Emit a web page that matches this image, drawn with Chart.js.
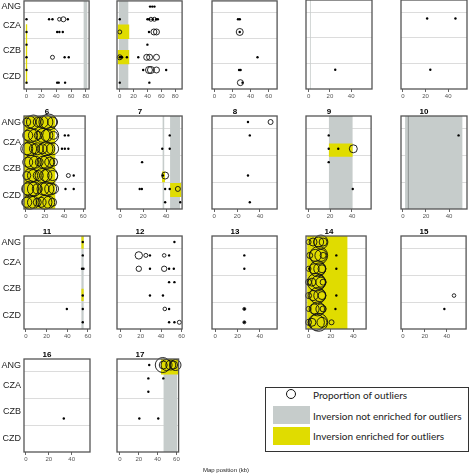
<!DOCTYPE html>
<html>
<head>
<meta charset="utf-8">
<script src="https://cdn.jsdelivr.net/npm/chart.js@4.4.1/dist/chart.umd.min.js"></script>
<style>
html, body { margin: 0; padding: 0; background: #fff; width: 474px; height: 474px; overflow: hidden; position: relative; font-family: "Liberation Sans", Arial, sans-serif; }
canvas { position: absolute; }
#legend { position: absolute; left: 265px; top: 387px; width: 204px; height: 65px; border: 1.5px solid #333; box-sizing: border-box; font-family: Lato, "Open Sans", sans-serif; font-size: 10px; color: #222; }
#legend .item { position: absolute; left: 47px; white-space: nowrap; line-height: 12px; }
#legend .sw { position: absolute; left: 7px; width: 37px; height: 18px; }
#legend .circ { position: absolute; left: 20px; top: 1px; width: 10px; height: 10px; border: 1.3px solid #111; border-radius: 50%; box-sizing: border-box; }
#xlabel { position: absolute; left: 203px; top: 467px; font-size: 6px; color: #222; white-space: nowrap; }
</style>
</head>
<body>
<div id="panels"></div>
<div id="legend">
  <div class="circ"></div>
  <div class="item" style="top:1px">Proportion of outliers</div>
  <div class="sw" style="top:18px;background:#c6cccb"></div>
  <div class="item" style="top:22px">Inversion not enriched for outliers</div>
  <div class="sw" style="top:39px;background:#e0dc00"></div>
  <div class="item" style="top:42px">Inversion enriched for outliers</div>
</div>
<div id="xlabel">Map position (kb)</div>
<script>
// rows inside a panel: ANG = 7, CZA = 6/5, CZB = 4/3, CZD = 2/1
var Y_MIN = 0.5, Y_MAX = 7.45;
var popLabels = ['ANG', 'CZA', 'CZB', 'CZD'];
var popRows = [7, 5.5, 3.5, 1.5];
var groupLines = [2.5, 4.5, 6.5];

var panelTitles = ['1','2','3','4','5','6','7','8','9','10','11','12','13','14','15','16','17'];

var xRanges = [
    [-3.4, 84.4], [-4, 90], [-2.8, 69.3], [-2.6, 59.7], [-1.7, 56.6],
    [-1.9, 62], [-2.8, 54], [-2, 55], [-1.9, 57.4], [-1.6, 55.5],
    [-1.9, 62], [-3.1, 60.5], [-2.8, 55.4], [-2.3, 51.4], [-1.7, 57.6],
    [-1.7, 56], [-3.1, 62.3]
];

var xTicks = [
    [0,20,40,60,80], [0,20,40,60,80], [0,20,40,60], [0,20,40], [0,20,40],
    [0,20,40,60], [0,20,40], [0,20,40], [0,20,40], [0,20,40],
    [0,20,40,60], [0,20,40,60], [0,20,40], [0,20,40], [0,20,40],
    [0,20,40], [0,20,40,60]
];

// inversions not enriched: [start, end]
var grayBands = [
    [[76.7, 82.3]], [[-1.5, 12.7]], [], [[1, 2]], [],
    [], [[36.8, 38.6], [43.5, 52.2]], [], [[18.8, 40.7]], [[1.9, 51.7]],
    [[53.5, 56]], [], [], [], [],
    [], [[46.1, 61]]
];
var darkBands = [
    [], [], [], [], [],
    [], [], [], [], [[4.2, 5.1]],
    [], [], [], [], [],
    [], []
];

// inversions enriched: [start, end, rowFrom, rowTo]
var yellowBands = [
    [[-1.2, 1.2, 0.9, 5.6]], [[-3, 14, 4.45, 5.58], [-3, 14, 2.45, 3.58]], [], [], [],
    [[-1.9, 31, 0.5, 7.45]], [[36.5, 39.2, 2.5, 3.3], [43.5, 53.5, 1.4, 2.45]], [], [[18.8, 40.7, 4.4, 5.4]], [],
    [[53.5, 56, 6.5, 7.45], [53.5, 56, 2.6, 3.5]], [], [], [[-1.3, 34.9, 0.5, 7.45]], [],
    [], [[43.6, 62.3, 6.3, 7.45]]
];

// single markers: [position, row]
var dots = [
    [[0,6],[30.4,6],[35,6],[55.7,6],[0,5],[41.3,5],[44.3,5],[48.9,5],[0,4],[0,3],[51.4,3],[57,3],[0,2],[0,1],[41.3,1],[43.4,1],[52,1]],
    [[43.7,7],[46.9,7],[50.1,7],[0,6],[40,6],[42.5,6],[47.5,6],[52.5,6],[55,6],[42.2,5],[39.9,4],[0,3],[1.5,3],[3.3,3],[10.3,3],[26.7,3],[33.8,2],[67,2],[0,1],[42.7,1]],
    [[26,6],[28,6],[27.9,5],[47.6,3],[27.2,2],[28.9,2],[31,1]],
    [[25,2]],
    [[21.4,6],[46.4,6],[24.2,2]],
    [[40.8,6],[44.5,6],[37.8,5],[40.8,5],[44.5,5],[50.1,3],[41.5,2],[50.1,2]],
    [[43.2,6],[36.7,5],[43.2,5],[19.1,4],[37.3,3],[17,2],[18.9,2],[39.2,2],[43.2,2],[39.2,1],[52.4,1]],
    [[29.5,7],[31.1,6],[29.5,3],[31.1,1]],
    [[18.8,6],[18.8,5],[27.5,5],[18.8,4],[40.7,2]],
    [[48.2,6]],
    [[55,7],[55,6],[54.3,5],[55.7,5],[55,3],[55,2],[39.6,2],[55,1]],
    [[53,7],[29.1,6],[47.8,6],[29.1,5],[47.8,5],[52.4,5],[47.8,4],[53,4],[29.1,3],[41.8,3],[47.8,2],[47.8,1],[53,1]],
    [[26.1,6],[26.1,5],[26.1,2],[26.1,1]],
    [[24.8,6],[24.8,5],[24.8,3],[24,2],[0.7,5]],
    [[37.8,2]],
    [[33.1,3]],
    [[31.1,7],[30.2,6],[46.1,6],[30.2,5],[20.6,3],[40.7,3]]
];

// proportion of outliers: [position, row, radius]
var circles = [
    [[49.7,6,2.5],[44.3,6,1.8],[35,3,2]],
    [[45,6,2],[50,6,2],[0,5,2],[49.3,5,3],[53,5,3],[0,3,2.5],[38.9,3,3],[43.1,3,3],[53,3,3],[42.2,2,3.5],[45,2,3.5],[53,2,3]],
    [[27.9,5,3.5],[28.6,1,3]],
    [],
    [],
    [[1,7,4],[4,7,6],[8,7,7],[13,7,5],[17,7,6],[21,7,7],[24,7,8],[28,7,5],
     [2,6,5],[5,6,7],[9,6,6],[13,6,4],[18,6,7],[22,6,6],[26,6,8],[29,6,4],
     [1,5,6],[4,5,7],[9,5,5],[12,5,6],[17,5,5],[21,5,7],[24,5,6],[28,5,6],
     [2,4,5],[6,4,7],[10,4,6],[14,4,4],[18,4,6],[22,4,7],[25,4,5],[29,4,4],
     [1,3,4],[5,3,7],[8,3,6],[13,3,5],[17,3,7],[21,3,6],[25,3,8],[28,3,5],
     [2,2,6],[5,2,8],[9,2,7],[12,2,5],[18,2,6],[22,2,7],[26,2,6],[29,2,5],
     [1,1,5],[4,1,7],[8,1,6],[12,1,4],[16,1,5],[20,1,7],[24,1,6],[28,1,4],
     [44.5,3,2]],
    [[39.2,3,3.5],[50.3,2,2.5]],
    [[49.3,7,2.5]],
    [[41.2,5,4]],
    [],
    [],
    [[18.2,6,3.7],[25.1,6,2],[43,6,1.8],[18.2,5,2.7],[43,5,2.7],[43.6,2,1.8],[57.8,1,2]],
    [[26.1,2,1.5],[26.1,1,1.5]],
    [[0,7,2.5],[4,7,4],[9,7,5],[11,7,7],[13,7,4],
     [1,6,3],[6,6,6],[9,6,9],[11,6,6],[13,6,3],
     [0,5,2.5],[5,5,5],[8,5,8],[10,5,6],[12,5,4],
     [0,4,3],[3,4,4],[7,4,9],[9,4,7],[11,4,5],[13,4,3],
     [0,3,3],[4,3,5],[8,3,8],[10,3,6],[12,3,4],
     [0,2,2.5],[5,2,5],[8,2,7],[11,2,5],[13,2,3],
     [0,1,3],[3,1,4],[7,1,8],[9,1,9],[12,1,5],[20.5,1,2.5]],
    [[46.6,3,1.8]],
    [],
    [[45.5,7,7.5],[46,7,4],[49.5,7,5.5],[54,7,5],[57,7,4],[59,7,5.5]]
];

// layout of the small multiples (pixels)
var colLefts = [24, 117, 212, 306, 401];
var rowTops = [-4, 116, 236, 359];
var YW = 24, PW = 70, PH = 93, XH = 14, TH = 10;

var boxPlugin = {
    id: 'box',
    afterDatasetsDraw: function(chart) {
        var a = chart.chartArea, ctx = chart.ctx;
        ctx.save();
        ctx.strokeStyle = '#555';
        ctx.lineWidth = 1.3;
        ctx.strokeRect(a.left, a.top, a.right - a.left, a.bottom - a.top);
        ctx.restore();
    }
};

function bandDataset(b, color) {
    return {
        type: 'line',
        data: [{x: b[0], y: b[2]}, {x: b[0], y: b[3]}, {x: b[1], y: b[3]}, {x: b[1], y: b[2]}],
        showLine: true,
        fill: {value: b[2]},
        backgroundColor: color,
        borderColor: 'rgba(0,0,0,0)',
        borderWidth: 0,
        pointRadius: 0,
        tension: 0
    };
}

function makePanel(i) {
    var row = Math.floor(i / 5), col = i % 5;
    var hasTitle = row > 0;
    var th = hasTitle ? TH : 0;

    var canvas = document.createElement('canvas');
    var w = YW + PW, h = th + PH + XH;
    canvas.width = w; canvas.height = h;
    canvas.style.width = w + 'px'; canvas.style.height = h + 'px';
    canvas.style.left = (colLefts[col] - YW) + 'px';
    canvas.style.top = (rowTops[row] - th) + 'px';
    document.getElementById('panels').appendChild(canvas);

    // first dataset is drawn on top
    var datasets = [];
    datasets.push({
        type: 'scatter',
        data: dots[i].map(function(d) { return {x: d[0], y: d[1]}; }),
        pointRadius: 1.2,
        backgroundColor: '#000',
        borderWidth: 0
    });
    datasets.push({
        type: 'bubble',
        data: circles[i].map(function(c) { return {x: c[0], y: c[1], r: c[2]}; }),
        backgroundColor: 'rgba(0,0,0,0)',
        borderColor: '#111',
        borderWidth: 0.9,
        clip: false
    });
    yellowBands[i].forEach(function(b) { datasets.push(bandDataset(b, '#e0dc00')); });
    darkBands[i].forEach(function(b) { datasets.push(bandDataset([b[0], b[1], Y_MIN, Y_MAX], '#6f7473')); });
    grayBands[i].forEach(function(b) { datasets.push(bandDataset([b[0], b[1], Y_MIN, Y_MAX], '#c6cccb')); });

    new Chart(canvas.getContext('2d'), {
        type: 'scatter',
        data: {datasets: datasets},
        plugins: [boxPlugin],
        options: {
            responsive: false,
            animation: false,
            devicePixelRatio: 1,
            events: [],
            layout: {padding: 0},
            plugins: {
                legend: {display: false},
                tooltip: {enabled: false},
                title: {
                    display: hasTitle,
                    text: panelTitles[i],
                    color: '#000',
                    font: {family: '"Liberation Sans", Arial', size: 8, weight: 'bold', lineHeight: 1},
                    padding: {top: 2, bottom: 0}
                }
            },
            scales: {
                x: {
                    type: 'linear',
                    min: xRanges[i][0],
                    max: xRanges[i][1],
                    afterBuildTicks: function(axis) {
                        axis.ticks = xTicks[i].map(function(v) { return {value: v}; });
                    },
                    ticks: {
                        font: {family: '"Liberation Sans", Arial', size: 6},
                        color: '#555',
                        padding: 1,
                        maxRotation: 0,
                        autoSkip: false
                    },
                    grid: {drawOnChartArea: false, tickLength: 3, color: '#666'},
                    border: {display: false},
                    afterFit: function(s) { s.height = XH; s.paddingLeft = 0; s.paddingRight = 0; }
                },
                y: {
                    type: 'linear',
                    min: Y_MIN,
                    max: Y_MAX,
                    afterBuildTicks: function(axis) {
                        axis.ticks = [1.5, 2.5, 3.5, 4.5, 5.5, 6.5, 7].map(function(v) { return {value: v}; });
                    },
                    ticks: {
                        display: col === 0,
                        font: {family: '"Liberation Sans", Arial', size: 9},
                        color: '#222',
                        padding: 3,
                        autoSkip: false,
                        callback: function(v) {
                            var k = popRows.indexOf(v);
                            return k < 0 ? '' : popLabels[k];
                        }
                    },
                    grid: {
                        drawTicks: false,
                        color: function(ctx) {
                            return ctx.tick && groupLines.indexOf(ctx.tick.value) >= 0 ? '#dcdcdc' : 'rgba(0,0,0,0)';
                        }
                    },
                    border: {display: false},
                    afterFit: function(s) { s.width = YW; s.paddingTop = 0; s.paddingBottom = 0; }
                }
            }
        }
    });
}

for (var i = 0; i < panelTitles.length; i++) {
    makePanel(i);
}
</script>
</body>
</html>
